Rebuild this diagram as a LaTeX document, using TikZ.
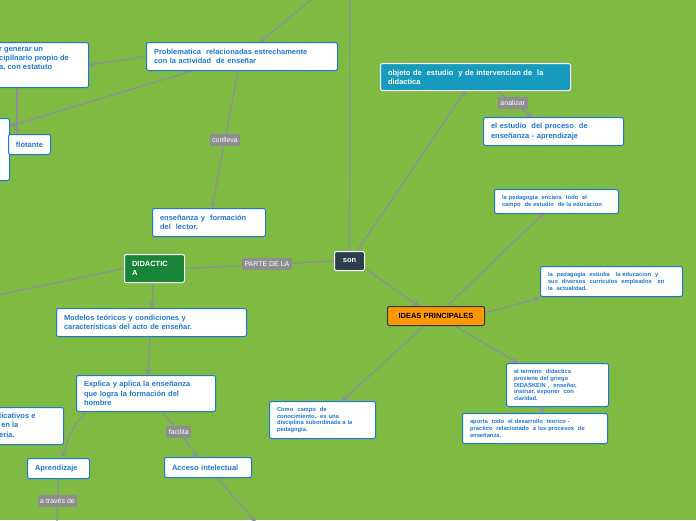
\documentclass[tikz,border=0pt]{standalone}
\usepackage{fontspec}
\setmainfont{Liberation Sans}
\usetikzlibrary{arrows.meta}
\definecolor{bg}{HTML}{7FBA42}
\definecolor{bl}{HTML}{1E78D2}
\definecolor{ln}{HTML}{8E8E9E}
\definecolor{lab}{HTML}{8E8E8E}
\pgfdeclarelayer{edges}
\pgfsetlayers{edges,main}
\tikzset{
 box/.style={draw=bl,line width=1pt,fill=white,rounded corners=2pt,font=\bfseries\fontsize{7.5}{9.3}\selectfont,text=bl,align=left,anchor=north west,inner xsep=7pt,inner ysep=0pt},
 sbox/.style={box,font=\bfseries\fontsize{5.8}{6.8}\selectfont},
 lbl/.style={fill=lab,text=white,font=\fontsize{7}{8}\selectfont,inner sep=2.5pt,minimum height=12pt},
 con/.style={draw=ln,line width=1.2pt},
 arr/.style={con,-{Stealth[length=6pt,width=6pt]}}
}
\newcommand{\bx}[5][box]{\node[#1,minimum width=#3pt,minimum height=#4pt,text width=#3pt-15pt] #2 {#5};}
\begin{document}
\begin{tikzpicture}[x=1pt,y=-1pt]
\useasboundingbox (0,0) rectangle (696,520);
\begin{pgfonlayer}{edges}
\fill[bg] (0,0) rectangle (696,520);
\end{pgfonlayer}
\begin{scope}
\clip (0,0) rectangle (696,520);
\coordinate (t1) at (313,-2);
\coordinate (t2) at (350,-2);
\coordinate (lo) at (-2,295);
\coordinate (b1) at (57,522);
\coordinate (b2) at (256,522);
% left partial boxes
\bx{(lb1) at (-30,42)}{118}{45}{}
\bx{(lb2) at (-41,118)}{50}{62}{}
\node[box,minimum width=42pt,minimum height=20pt,inner xsep=3pt] (flo) at (8,134) {flotante};
\bx{(lb3) at (-50,407)}{113}{37}{}
\node[anchor=north west,font=\bfseries\fontsize{7.5}{9.3}\selectfont,text=bl,align=left,inner sep=0pt] at (-1,47) {r generar un\\cipllnario propio de\\a, con estatuto};
\node[anchor=north west,font=\bfseries\fontsize{7.5}{9.3}\selectfont,text=bl,align=left,inner sep=0pt] at (-1,413) {licativos e\\\ en la\\eria.};
% main boxes
\bx{(pro) at (146,42)}{191}{28}{Problematica\ \ relacionadas estrechamente\\con la actividad\ \ de enseñar}
\bx{(ens) at (152,208)}{113}{28}{enseñanza y\ \ formación\\del\ \ lector.}
\node[draw=white,line width=1pt,fill={rgb,255:red,24;green,132;blue,56},rounded corners=2pt,font=\bfseries\fontsize{7.5}{9.3}\selectfont,text=white,align=left,anchor=north west,minimum width=60pt,minimum height=28pt,text width=45pt,inner xsep=7pt] (did) at (124,254) {DIDACTIC\\A};
\node[draw=white,line width=1pt,fill={rgb,255:red,44;green,62;blue,80},rounded corners=2pt,font=\bfseries\fontsize{7.5}{9.3}\selectfont,text=white,anchor=north west,minimum width=30pt,minimum height=19pt] (son) at (334,251) {son};
\bx{(mod) at (56,308)}{190}{28}{Modelos teóricos y condiciones y\\características del acto de enseñar.}
\bx{(exp) at (76,375)}{139}{36}{Explica y aplica la enseñanza\\que logra la formación del\\hombre}
\bx{(apr) at (27,458)}{62}{20}{Aprendizaje}
\bx{(acc) at (164,457)}{87}{20}{Acceso intelectual}
\node[draw=white,line width=1pt,fill={rgb,255:red,22;green,154;blue,190},rounded corners=2pt,font=\bfseries\fontsize{7.5}{9.3}\selectfont,text=white,align=left,anchor=north west,minimum width=190pt,minimum height=27pt,text width=175pt,inner xsep=7pt] (obj) at (380,63) {objeto de\ \ estudio\ \ y de intervencion de\ \ la\\didactica};
\bx{(est) at (483,117)}{140}{28}{el estudio\ \ del proceso\ \ de\\enseñanza - aprendizaje}
\bx[sbox]{(pe1) at (494,189)}{124}{24}{la pedagogia\ \ enciera\ \ todo\ \ el\\campo\ \ de estudio\ \ de la educacion}
\bx[sbox]{(pe2) at (540,266)}{142}{30}{la\ \ pedagogia\ \ estudia\ \ \ la educacion\ \ y\\sus\ \ diversos\ \ curriculos\ \ empleados\ \ \ en\\la\ \ actualidad.}
\node[draw=black!80,line width=1pt,fill={rgb,255:red,255;green,152;blue,0},rounded corners=2pt,font=\bfseries\fontsize{7.5}{9.3}\selectfont,text=black,anchor=north west,minimum width=97pt,minimum height=19pt] (ide) at (387,306) {IDEAS PRINCIPALES};
\bx[sbox]{(ter) at (506,363)}{102}{43}{el termino\ \ didactica\\proviene del griego\\DIDASKEIN ,\ \ enseñar,\\instruir, exponer\ \ con\\claridad.}
\bx[sbox]{(apo) at (462,413)}{145}{30}{aporta\ \ todo\ \ el desarrollo\ \ teorico -\\practico\ \ relacionado\ \ a los procesos\ \ de\\enseñanza.}
\bx[sbox]{(com) at (269,401)}{106}{37}{Como\ \ campo\ \ de\\conocimiento,\ \ es una\\disciplina subordinada a la\\pedagogía.}
\end{scope}
\begin{pgfonlayer}{edges}
\begin{scope}
\clip (0,0) rectangle (696,520);
\draw[arr] (t1) -- (pro.north west -| 260,42);
\draw[con] (t2) -- (son.north);
\draw[arr] (pro.west) -- (lb1.east);
\draw[arr] ([xshift=46pt]pro.south west) -- (10,126);
\draw[arr] (17,88) -- (flo.north west -| 17,134);
\draw[arr] (238,71) -- node[lbl,pos=0.5]{conlleva} (212,208);
\draw[con] (son.west) -- node[lbl,pos=0.45]{PARTE DE LA} (did.east);
\draw[con] (did.west) -- (lo);
\draw[arr] (153,283) -- (152,308);
\draw[arr] (150,337) -- (148,375);
\draw[arr] (86,412) .. controls (72,428) .. (62,458);
\draw[arr] (163,412) -- node[lbl,pos=0.45]{facilita} (198,457);
\draw[con] (58,479) -- node[lbl,pos=0.5]{a través de} (b1);
\draw[arr] (217,478) -- (b2);
\draw[arr] (357,251) -- (466,90);
\draw[arr] (497,91) -- node[lbl,pos=0.45]{analizar} (532,117);
\draw[arr] (364,268) -- (419,306);
\draw[arr] (447,306) -- (544,213);
\draw[arr] (484,313) -- (540,298);
\draw[arr] (424,326) -- (342,401);
\draw[arr] (455,326) -- (518,363);
\draw[arr] (540,413) -- (545,407);
\end{scope}
\end{pgfonlayer}
\end{tikzpicture}
\end{document}
